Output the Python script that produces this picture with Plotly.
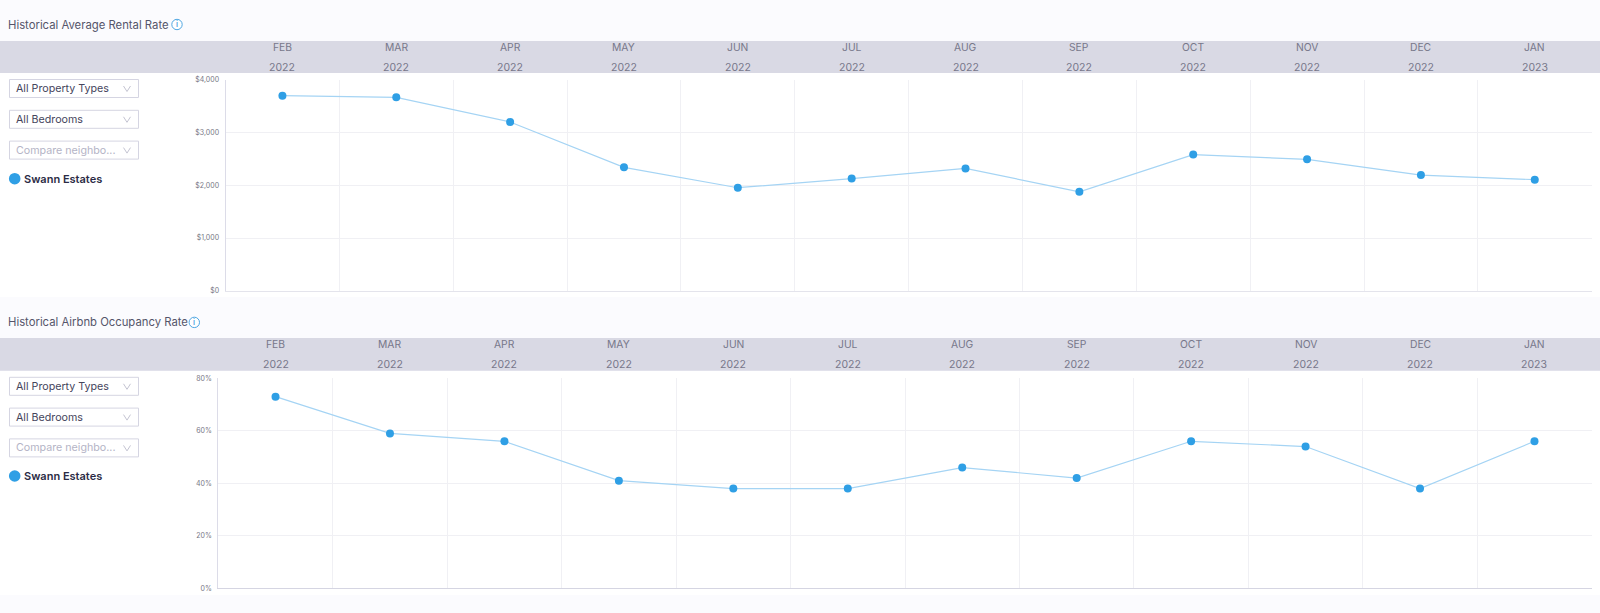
import plotly.graph_objects as go

months = ["FEB", "MAR", "APR", "MAY", "JUN", "JUL", "AUG", "SEP", "OCT", "NOV", "DEC", "JAN"]
years = ["2022"] * 11 + ["2023"]
rental_rate = [3702, 3671, 3203, 2342, 1955, 2128, 2322, 1877, 2584, 2494, 2196, 2107]
occupancy_rate = [73, 59, 56, 41, 38, 38, 46, 42, 56, 54, 38, 56]
rental_ticks = [0, 1000, 2000, 3000, 4000]
rental_tick_labels = ["$0", "$1,000", "$2,000", "$3,000", "$4,000"]
occupancy_ticks = [0, 20, 40, 60, 80]
occupancy_tick_labels = ["0%", "20%", "40%", "60%", "80%"]
series_name = "Swann Estates"
dropdown_labels = ["All Property Types", "All Bedrooms", "Compare neighbo..."]
titles = ["Historical Average Rental Rate", "Historical Airbnb Occupancy Rate"]

W, H = 1600, 613
FONT = "Inter, Lato, sans-serif"
BG = "#fbfbfe"
BAND = "#d9d9e4"
LINE = "#a5d4f4"
DOT = "#2f9fe5"
GRID = "#f0f0f4"

px = lambda v: v / W
py = lambda v: 1 - v / H

fig = go.Figure()
shapes, notes = [], []


def rect(x0, y0, x1, y1, fill, line=None, width=0):
    shapes.append(dict(type="rect", xref="paper", yref="paper", layer="below",
                       x0=px(x0), x1=px(x1), y0=py(y0), y1=py(y1),
                       fillcolor=fill, line=dict(color=line or fill, width=width)))


def circle(cx, cy, r, fill, line=None, width=0):
    shapes.append(dict(type="circle", xref="paper", yref="paper", layer="above",
                       x0=px(cx - r), x1=px(cx + r), y0=py(cy - r), y1=py(cy + r),
                       fillcolor=fill, line=dict(color=line or fill, width=width)))


def text(x, y, s, size, color, anchor="left", weight=400, xref="paper"):
    notes.append(dict(x=px(x) if xref == "paper" else x, y=py(y), xref=xref, yref="paper",
                      text=s, showarrow=False, xanchor=anchor, yanchor="middle",
                      xshift=-3 if anchor == "left" else 0,
                      font=dict(family=FONT, size=size, color=color, weight=weight)))


def panel(idx, title, values, ticks, tick_labels, left, top, bottom,
          band_top, band_bot, panel_bot, info_x, title_y, drop_y, legend_y, axis_color):
    xa, ya = f"xaxis{idx}", f"yaxis{idx}"
    xr, yr = f"x{idx}", f"y{idx}"
    rect(0, band_bot, W, panel_bot, "#ffffff")
    rect(0, band_top, W, band_bot, BAND)
    text(9, title_y, title, 11.3, "#55556a")
    circle(info_x, title_y, 5.2, "#ffffff", "#4fa6e2", 1)
    text(info_x, title_y, "i", 7.5, "#4fa6e2", anchor="center", weight=600)

    fig.add_trace(go.Scatter(x=months, y=values, mode="lines+markers", name=series_name,
                             xaxis=xr, yaxis=yr, showlegend=False,
                             line=dict(color=LINE, width=1.2),
                             marker=dict(color=DOT, size=8)))
    fig.update_layout({
        xa: dict(domain=[px(left), px(1591.7)], type="category", categoryorder="array",
                 categoryarray=months, range=[-0.5, 11.5], tickson="boundaries",
                 showticklabels=False, showgrid=True, gridcolor=GRID, gridwidth=1.3,
                 showline=True, linecolor=axis_color, linewidth=1.2, zeroline=False,
                 ticks="", anchor=yr, fixedrange=True),
        ya: dict(domain=[py(bottom), py(top)], range=[ticks[0], ticks[-1]], tickmode="array",
                 tickvals=ticks, ticktext=tick_labels,
                 tickfont=dict(family=FONT, size=7, color="#777785"),
                 showgrid=True, gridcolor=GRID, gridwidth=1, showline=True,
                 linecolor="#dcdce8", linewidth=1, zeroline=False, ticks="",
                 ticklabelstandoff=4, anchor=xr, fixedrange=True),
    })

    for m, y in zip(months, years):
        text(m, band_top + 5.7, m, 10.3, "#77778a", anchor="center", xref=xr)
        text(m, band_top + 26.7, y, 10.5, "#77778a", anchor="center", xref=xr)

    for k, label in enumerate(dropdown_labels):
        y0 = drop_y + 30.8 * k
        rect(9.5, y0, 138.5, y0 + 18, "#ffffff", "#d5d5e2", 1)
        color = "#b4b4c6" if k == 2 else "#45455c"
        text(17, y0 + 9, label, 10.7, color)
        shapes.append(dict(type="path", xref="paper", yref="paper", layer="above",
                           path=f"M {px(123.5)} {py(y0 + 6.5)} L {px(127)} {py(y0 + 12)} L {px(130.5)} {py(y0 + 6.5)}",
                           line=dict(color="#c4c4d2", width=1)))

    circle(14.7, legend_y, 5.8, DOT)
    text(25, legend_y, series_name, 11, "#2b2b45", weight=600)


panel(1, titles[0], rental_rate, rental_ticks, rental_tick_labels, 225.5, 80, 290.7,
      41, 73, 297, 177, 24.5, 79.5, 178.7, "#e4e4ec")
panel(2, titles[1], occupancy_rate, occupancy_ticks, occupancy_tick_labels, 218.3, 378.3, 588.3,
      338, 370.7, 595, 194.3, 322.4, 377.3, 476, "#d5d5e2")

fig.update_layout(width=W, height=H, margin=dict(l=0, r=0, t=0, b=0, pad=0, autoexpand=False),
                  paper_bgcolor=BG, plot_bgcolor="rgba(0,0,0,0)",
                  shapes=shapes, annotations=notes, showlegend=False,
                  hovermode="closest", font=dict(family=FONT))

fig.write_html("out.html", config=dict(displayModeBar=False, responsive=False),
               post_script="document.body.style.margin='0';document.body.style.overflow='hidden';")
